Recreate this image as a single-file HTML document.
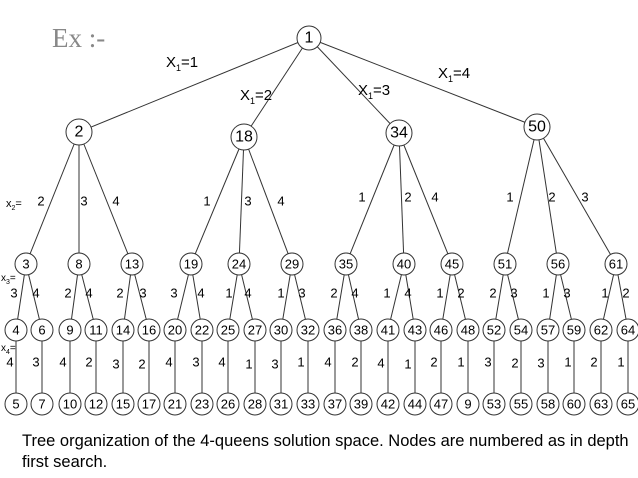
<!DOCTYPE html>
<html><head><meta charset="utf-8"><style>
html,body{margin:0;padding:0;background:#fff;width:638px;height:478px;overflow:hidden}
svg{display:block}
text{font-family:"Liberation Sans",Arial,sans-serif;fill:#000}
.n{font-size:13px;text-anchor:middle;dominant-baseline:central}
.b{font-size:16px;text-anchor:middle;dominant-baseline:central}
.l{font-size:13px;text-anchor:middle;dominant-baseline:central}
.x{font-size:15px}
line{stroke:#333;stroke-width:1}
circle{fill:#fff;stroke:#333;stroke-width:1}
</style></head><body>
<svg width="638" height="478" viewBox="0 0 638 478">
<text x="52" y="47" style="font-family:'Liberation Serif',serif;font-size:27px;fill:#888">Ex :-</text>
<line x1="309" y1="38" x2="79" y2="132"/><line x1="309" y1="38" x2="244" y2="137"/>
<line x1="309" y1="38" x2="399" y2="133"/><line x1="309" y1="38" x2="537" y2="127"/>
<line x1="79" y1="132" x2="26" y2="264"/><line x1="79" y1="132" x2="79" y2="264"/><line x1="79" y1="132" x2="132" y2="264"/>
<line x1="244" y1="137" x2="191" y2="264"/><line x1="244" y1="137" x2="239" y2="264"/><line x1="244" y1="137" x2="292" y2="264"/>
<line x1="399" y1="133" x2="346" y2="264"/><line x1="399" y1="133" x2="404" y2="264"/><line x1="399" y1="133" x2="452" y2="264"/>
<line x1="537" y1="127" x2="505" y2="264"/><line x1="537" y1="127" x2="558" y2="264"/><line x1="537" y1="127" x2="616" y2="264"/>
<line x1="26" y1="264" x2="16" y2="330"/><line x1="26" y1="264" x2="42" y2="330"/>
<line x1="79" y1="264" x2="70" y2="330"/><line x1="79" y1="264" x2="96" y2="330"/>
<line x1="132" y1="264" x2="123" y2="330"/><line x1="132" y1="264" x2="149" y2="330"/>
<line x1="191" y1="264" x2="175" y2="330"/><line x1="191" y1="264" x2="202" y2="330"/>
<line x1="239" y1="264" x2="228" y2="330"/><line x1="239" y1="264" x2="255" y2="330"/>
<line x1="292" y1="264" x2="281" y2="330"/><line x1="292" y1="264" x2="308" y2="330"/>
<line x1="346" y1="264" x2="335" y2="330"/><line x1="346" y1="264" x2="361" y2="330"/>
<line x1="404" y1="264" x2="388" y2="330"/><line x1="404" y1="264" x2="415" y2="330"/>
<line x1="452" y1="264" x2="441" y2="330"/><line x1="452" y1="264" x2="468" y2="330"/>
<line x1="505" y1="264" x2="494" y2="330"/><line x1="505" y1="264" x2="521" y2="330"/>
<line x1="558" y1="264" x2="548" y2="330"/><line x1="558" y1="264" x2="574" y2="330"/>
<line x1="616" y1="264" x2="601" y2="330"/><line x1="616" y1="264" x2="628" y2="330"/>
<g>
<line x1="16" y1="330" x2="16" y2="404"/><line x1="42" y1="330" x2="42" y2="404"/><line x1="70" y1="330" x2="70" y2="404"/><line x1="96" y1="330" x2="96" y2="404"/>
<line x1="123" y1="330" x2="123" y2="404"/><line x1="149" y1="330" x2="149" y2="404"/><line x1="175" y1="330" x2="175" y2="404"/><line x1="202" y1="330" x2="202" y2="404"/>
<line x1="228" y1="330" x2="228" y2="404"/><line x1="255" y1="330" x2="255" y2="404"/><line x1="281" y1="330" x2="281" y2="404"/><line x1="308" y1="330" x2="308" y2="404"/>
<line x1="335" y1="330" x2="335" y2="404"/><line x1="361" y1="330" x2="361" y2="404"/><line x1="388" y1="330" x2="388" y2="404"/><line x1="415" y1="330" x2="415" y2="404"/>
<line x1="441" y1="330" x2="441" y2="404"/><line x1="468" y1="330" x2="468" y2="404"/><line x1="494" y1="330" x2="494" y2="404"/><line x1="521" y1="330" x2="521" y2="404"/>
<line x1="548" y1="330" x2="548" y2="404"/><line x1="574" y1="330" x2="574" y2="404"/><line x1="601" y1="330" x2="601" y2="404"/><line x1="628" y1="330" x2="628" y2="404"/>
</g>
<circle cx="309" cy="38" r="12"/><text class="b" x="309" y="38">1</text>
<circle cx="79" cy="132" r="13"/><text class="b" x="79" y="132">2</text>
<circle cx="244" cy="137" r="13"/><text class="b" x="244" y="137">18</text>
<circle cx="399" cy="133" r="13"/><text class="b" x="399" y="133">34</text>
<circle cx="537" cy="127" r="13"/><text class="b" x="537" y="127">50</text>
<g>
<circle cx="26" cy="264" r="11"/><text class="n" x="26" y="264">3</text>
<circle cx="79" cy="264" r="11"/><text class="n" x="79" y="264">8</text>
<circle cx="132" cy="264" r="11"/><text class="n" x="132" y="264">13</text>
<circle cx="191" cy="264" r="11"/><text class="n" x="191" y="264">19</text>
<circle cx="239" cy="264" r="11"/><text class="n" x="239" y="264">24</text>
<circle cx="292" cy="264" r="11"/><text class="n" x="292" y="264">29</text>
<circle cx="346" cy="264" r="11"/><text class="n" x="346" y="264">35</text>
<circle cx="404" cy="264" r="11"/><text class="n" x="404" y="264">40</text>
<circle cx="452" cy="264" r="11"/><text class="n" x="452" y="264">45</text>
<circle cx="505" cy="264" r="11"/><text class="n" x="505" y="264">51</text>
<circle cx="558" cy="264" r="11"/><text class="n" x="558" y="264">56</text>
<circle cx="616" cy="264" r="11"/><text class="n" x="616" y="264">61</text>
</g>
<g>
<circle cx="16" cy="330" r="11"/><text class="n" x="16" y="330">4</text>
<circle cx="42" cy="330" r="11"/><text class="n" x="42" y="330">6</text>
<circle cx="70" cy="330" r="11"/><text class="n" x="70" y="330">9</text>
<circle cx="96" cy="330" r="11"/><text class="n" x="96" y="330">11</text>
<circle cx="123" cy="330" r="11"/><text class="n" x="123" y="330">14</text>
<circle cx="149" cy="330" r="11"/><text class="n" x="149" y="330">16</text>
<circle cx="175" cy="330" r="11"/><text class="n" x="175" y="330">20</text>
<circle cx="202" cy="330" r="11"/><text class="n" x="202" y="330">22</text>
<circle cx="228" cy="330" r="11"/><text class="n" x="228" y="330">25</text>
<circle cx="255" cy="330" r="11"/><text class="n" x="255" y="330">27</text>
<circle cx="281" cy="330" r="11"/><text class="n" x="281" y="330">30</text>
<circle cx="308" cy="330" r="11"/><text class="n" x="308" y="330">32</text>
<circle cx="335" cy="330" r="11"/><text class="n" x="335" y="330">36</text>
<circle cx="361" cy="330" r="11"/><text class="n" x="361" y="330">38</text>
<circle cx="388" cy="330" r="11"/><text class="n" x="388" y="330">41</text>
<circle cx="415" cy="330" r="11"/><text class="n" x="415" y="330">43</text>
<circle cx="441" cy="330" r="11"/><text class="n" x="441" y="330">46</text>
<circle cx="468" cy="330" r="11"/><text class="n" x="468" y="330">48</text>
<circle cx="494" cy="330" r="11"/><text class="n" x="494" y="330">52</text>
<circle cx="521" cy="330" r="11"/><text class="n" x="521" y="330">54</text>
<circle cx="548" cy="330" r="11"/><text class="n" x="548" y="330">57</text>
<circle cx="574" cy="330" r="11"/><text class="n" x="574" y="330">59</text>
<circle cx="601" cy="330" r="11"/><text class="n" x="601" y="330">62</text>
<circle cx="628" cy="330" r="11"/><text class="n" x="628" y="330">64</text>
</g>
<g>
<circle cx="16" cy="404" r="11"/><text class="n" x="16" y="404">5</text>
<circle cx="42" cy="404" r="11"/><text class="n" x="42" y="404">7</text>
<circle cx="70" cy="404" r="11"/><text class="n" x="70" y="404">10</text>
<circle cx="96" cy="404" r="11"/><text class="n" x="96" y="404">12</text>
<circle cx="123" cy="404" r="11"/><text class="n" x="123" y="404">15</text>
<circle cx="149" cy="404" r="11"/><text class="n" x="149" y="404">17</text>
<circle cx="175" cy="404" r="11"/><text class="n" x="175" y="404">21</text>
<circle cx="202" cy="404" r="11"/><text class="n" x="202" y="404">23</text>
<circle cx="228" cy="404" r="11"/><text class="n" x="228" y="404">26</text>
<circle cx="255" cy="404" r="11"/><text class="n" x="255" y="404">28</text>
<circle cx="281" cy="404" r="11"/><text class="n" x="281" y="404">31</text>
<circle cx="308" cy="404" r="11"/><text class="n" x="308" y="404">33</text>
<circle cx="335" cy="404" r="11"/><text class="n" x="335" y="404">37</text>
<circle cx="361" cy="404" r="11"/><text class="n" x="361" y="404">39</text>
<circle cx="388" cy="404" r="11"/><text class="n" x="388" y="404">42</text>
<circle cx="415" cy="404" r="11"/><text class="n" x="415" y="404">44</text>
<circle cx="441" cy="404" r="11"/><text class="n" x="441" y="404">47</text>
<circle cx="468" cy="404" r="11"/><text class="n" x="468" y="404">9</text>
<circle cx="494" cy="404" r="11"/><text class="n" x="494" y="404">53</text>
<circle cx="521" cy="404" r="11"/><text class="n" x="521" y="404">55</text>
<circle cx="548" cy="404" r="11"/><text class="n" x="548" y="404">58</text>
<circle cx="574" cy="404" r="11"/><text class="n" x="574" y="404">60</text>
<circle cx="601" cy="404" r="11"/><text class="n" x="601" y="404">63</text>
<circle cx="628" cy="404" r="11"/><text class="n" x="628" y="404">65</text>
</g>
<text class="x" x="166" y="67">X<tspan font-size="9" dy="4">1</tspan><tspan dy="-4">=1</tspan></text>
<text class="x" x="240" y="100">X<tspan font-size="9" dy="4">1</tspan><tspan dy="-4">=2</tspan></text>
<text class="x" x="358" y="95">X<tspan font-size="9" dy="4">1</tspan><tspan dy="-4">=3</tspan></text>
<text class="x" x="438" y="78">X<tspan font-size="9" dy="4">1</tspan><tspan dy="-4">=4</tspan></text>
<text x="6" y="207" font-size="11">x<tspan font-size="7" dy="3">2</tspan><tspan dy="-3">=</tspan></text>
<g>
<text class="l" x="41" y="201">2</text><text class="l" x="84" y="201">3</text><text class="l" x="116" y="201">4</text>
<text class="l" x="207" y="201">1</text><text class="l" x="248" y="201">3</text><text class="l" x="281" y="201">4</text>
<text class="l" x="362" y="197">1</text><text class="l" x="408" y="197">2</text><text class="l" x="435" y="197">4</text>
<text class="l" x="510" y="197">1</text><text class="l" x="552" y="197">2</text><text class="l" x="585" y="197">3</text>
</g>
<text x="1" y="281" font-size="10">x<tspan font-size="7" dy="3">3</tspan><tspan dy="-3">=</tspan></text>
<text x="1" y="351" font-size="10">x<tspan font-size="7" dy="3">4</tspan><tspan dy="-3">=</tspan></text>
<g>
<text class="l" x="14" y="293">3</text><text class="l" x="36" y="293">4</text>
<text class="l" x="68" y="293">2</text><text class="l" x="89" y="293">4</text>
<text class="l" x="120" y="293">2</text><text class="l" x="143" y="293">3</text>
<text class="l" x="174" y="293">3</text><text class="l" x="201" y="293">4</text>
<text class="l" x="229" y="293">1</text><text class="l" x="248" y="293">4</text>
<text class="l" x="281" y="293">1</text><text class="l" x="302" y="293">3</text>
<text class="l" x="334" y="293">2</text><text class="l" x="355" y="293">4</text>
<text class="l" x="387" y="293">1</text><text class="l" x="408" y="293">4</text>
<text class="l" x="440" y="293">1</text><text class="l" x="461" y="293">2</text>
<text class="l" x="493" y="293">2</text><text class="l" x="514" y="293">3</text>
<text class="l" x="546" y="293">1</text><text class="l" x="567" y="293">3</text>
<text class="l" x="605" y="293">1</text><text class="l" x="626" y="293">2</text>
</g>
<g>
<text class="l" x="10" y="362">4</text><text class="l" x="36" y="362">3</text>
<text class="l" x="63" y="362">4</text><text class="l" x="89" y="362">2</text>
<text class="l" x="116" y="364">3</text><text class="l" x="142" y="364">2</text>
<text class="l" x="169" y="362">4</text><text class="l" x="196" y="362">3</text>
<text class="l" x="222" y="362">4</text><text class="l" x="249" y="364">1</text>
<text class="l" x="275" y="364">3</text><text class="l" x="301" y="362">1</text>
<text class="l" x="328" y="362">4</text><text class="l" x="355" y="362">2</text>
<text class="l" x="381" y="363">4</text><text class="l" x="408" y="364">1</text>
<text class="l" x="434" y="362">2</text><text class="l" x="461" y="362">1</text>
<text class="l" x="488" y="362">3</text><text class="l" x="515" y="363">2</text>
<text class="l" x="541" y="363">3</text><text class="l" x="568" y="362">1</text>
<text class="l" x="594" y="362">2</text><text class="l" x="621" y="362">1</text>
</g>
<text x="22" y="446" font-size="16.5">Tree organization of the 4-queens solution space. Nodes are numbered as in depth</text>
<text x="22" y="467" font-size="16.5">first search.</text>
</svg>
</body></html>
